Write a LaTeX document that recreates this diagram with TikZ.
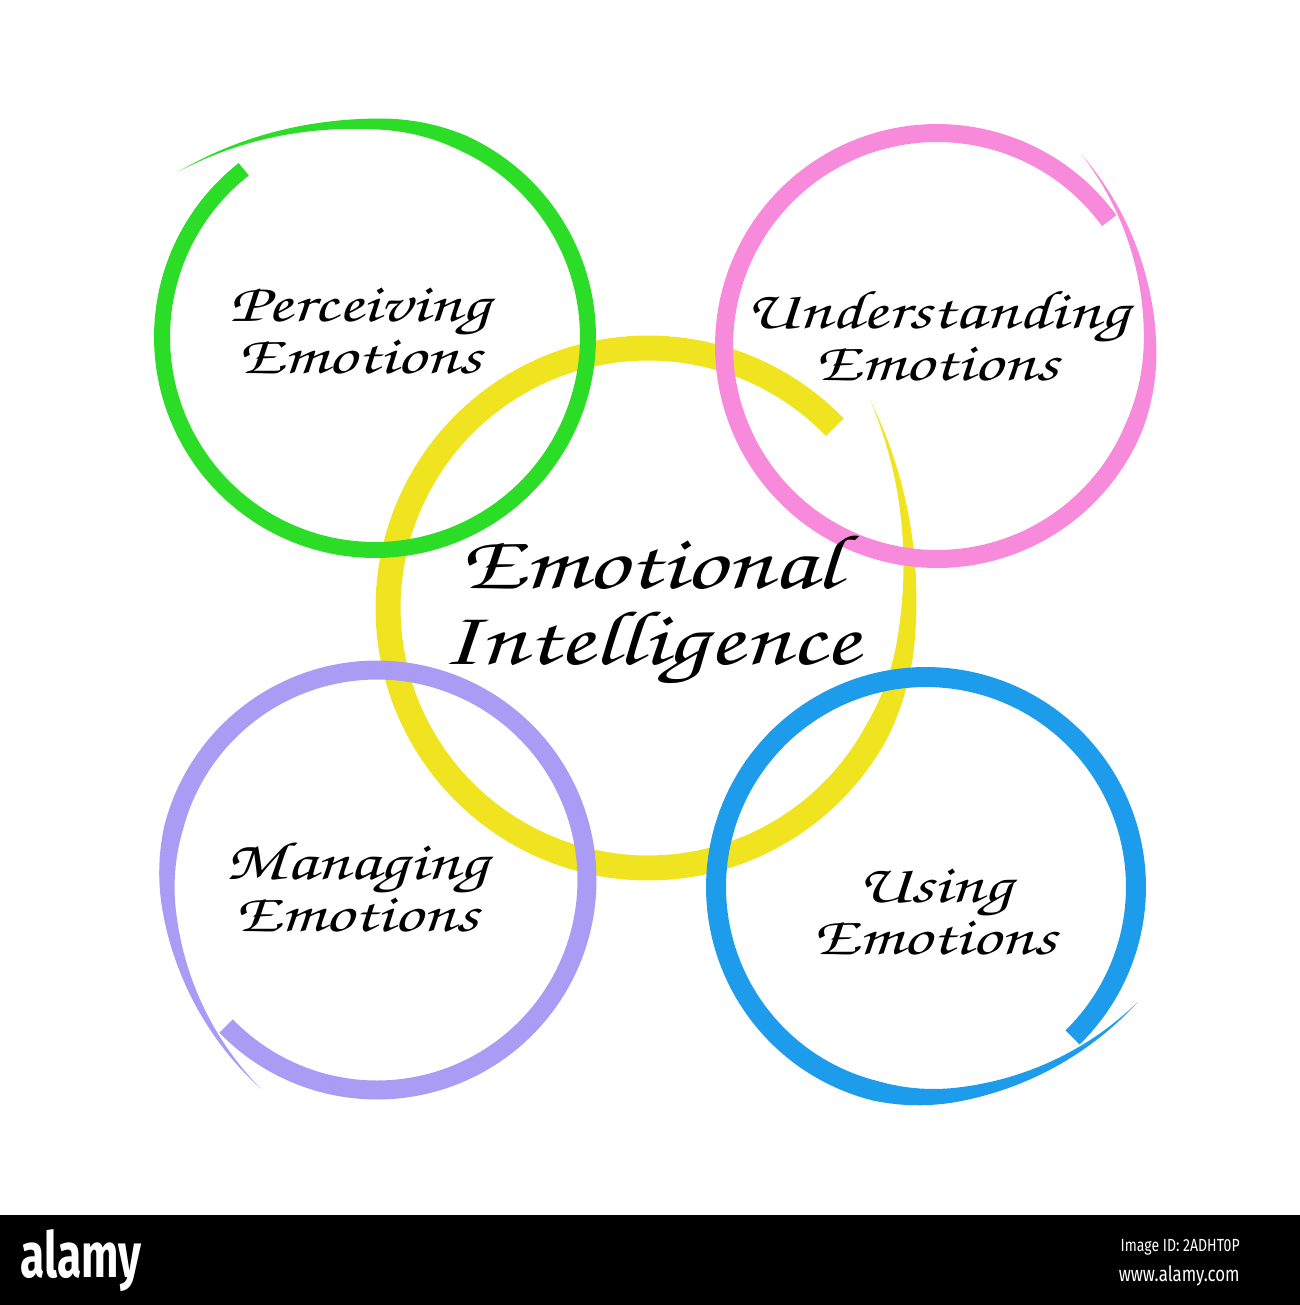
\documentclass[tikz,border=0pt]{standalone}
\usepackage[T1]{fontenc}
\usepackage{fontspec}
\newfontfamily\barfont{Fira Sans}
\usetikzlibrary{positioning}

\definecolor{ringgreen}{RGB}{44,221,40}
\definecolor{ringpink}{RGB}{248,138,220}
\definecolor{ringyellow}{RGB}{240,228,32}
\definecolor{ringpurple}{RGB}{170,155,244}
\definecolor{ringblue}{RGB}{30,156,236}

\newcommand{\handfont}{\fontencoding{T1}\fontfamily{pzc}\fontseries{mb}\fontshape{it}\selectfont}
\newcommand{\handlabel}[1]{\scalebox{1.32}[1]{\begin{tabular}{@{}c@{}}#1\end{tabular}}}

% brush ring: centre x, centre y, radius, start angle, end angle, tail offset, width, colour
\newcommand{\brushring}[8]{%
  \fill[#8] plot[domain=0:1, samples=181, variable=\s]
    ({#1+(#3+#6*pow(max(0,1-\s/0.14),2)+0.5*#7*min(1,\s/0.2))*cos(#4+\s*(#5-#4))},
     {#2+(#3+#6*pow(max(0,1-\s/0.14),2)+0.5*#7*min(1,\s/0.2))*sin(#4+\s*(#5-#4))})
    -- plot[domain=1:0, samples=181, variable=\s]
    ({#1+(#3+#6*pow(max(0,1-\s/0.14),2)-0.5*#7*min(1,\s/0.2))*cos(#4+\s*(#5-#4))},
     {#2+(#3+#6*pow(max(0,1-\s/0.14),2)-0.5*#7*min(1,\s/0.2))*sin(#4+\s*(#5-#4))})
    -- cycle;}

\begin{document}
\begin{tikzpicture}[x=0.02cm, y=-0.02cm]
  % text styles
  \tikzstyle{ringtext} = [inner sep=2pt, font=\handfont\fontsize{31}{29}\selectfont]
  \tikzstyle{maintext} = [inner sep=2pt, font=\handfont\fontsize{44}{40}\selectfont]
  \tikzstyle{bartext} = [text=white, inner sep=0pt]

  \useasboundingbox (0,0) rectangle (1300,1305);

  % the rings, centre one first
  \brushring{648}{608}{260}{317}{676}{44}{25}{ringyellow}
  \brushring{375}{337}{213}{220}{592}{44}{16}{ringgreen}
  \brushring{937}{346}{213}{307}{684}{27}{18}{ringpink}
  \brushring{377}{880}{210}{119}{496}{29}{19}{ringpurple}
  \brushring{926}{887}{210}{28.5}{405.8}{31}{20}{ringblue}

  % the labels
  \node (emo)   [maintext] at (650,611) {\handlabel{Emotional\\Intelligence}};
  \node (perc)  [ringtext] at (360,337) {\handlabel{Perceiving\\Emotions}};
  \node (under) [ringtext] at (937,343) {\handlabel{Understanding\\Emotions}};
  \node (manag) [ringtext] at (357,894) {\handlabel{Managing\\Emotions}};
  \node (using) [ringtext] at (935,918) {\handlabel{Using\\Emotions}};

  % footer bar
  \fill[black] (0,1215) rectangle (1300,1305);
  \node (logo)  [bartext, anchor=west, font=\barfont\bfseries\fontsize{36}{36}\selectfont] at (20,1260) {\scalebox{0.7}[1]{alamy}};
  \node (imgid) [bartext, anchor=east, font=\barfont\fontsize{10}{10}\selectfont] at (1240,1247) {\scalebox{0.8}[1]{Image ID: 2ADHT0P}};
  \node (web)   [bartext, anchor=east, font=\barfont\fontsize{12}{12}\selectfont] at (1240,1276) {\scalebox{0.8}[1]{www.alamy.com}};
\end{tikzpicture}
\end{document}
